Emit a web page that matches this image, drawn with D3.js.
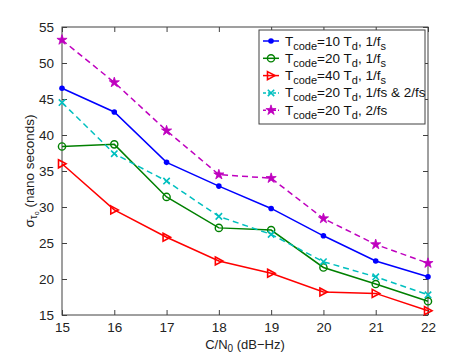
<!DOCTYPE html>
<html><head><meta charset="utf-8">
<script src="https://cdn.jsdelivr.net/npm/d3@7"></script>
<style>
body{margin:0;background:#fff;}
svg{font-family:"Liberation Sans",Arial,Helvetica,sans-serif;}
</style></head>
<body><svg id="c" width="474" height="355"></svg>
<script>
const xValues = [15,16,17,18,19,20,21,22];
const xTicks = [15,16,17,18,19,20,21,22];
const yTicks = [15,20,25,30,35,40,45,50,55];
const s10_1fs = [46.5,43.2,36.2,32.9,29.8,26.0,22.5,20.3];
const s20_1fs = [38.4,38.7,31.4,27.1,26.8,21.6,19.3,16.9];
const s40_1fs = [36.0,29.6,25.8,22.5,20.8,18.2,18.0,15.6];
const s20_12fs = [44.5,37.4,33.6,28.7,26.2,22.4,20.3,17.8];
const s20_2fs = [53.2,47.3,40.6,34.5,34.0,28.4,24.8,22.2];

const series = [
  {v:s10_1fs, color:"#0000ff", dash:null, marker:"dot", legend:["10","1/f","s"]},
  {v:s20_1fs, color:"#008000", dash:null, marker:"circle", legend:["20","1/f","s"]},
  {v:s40_1fs, color:"#ff0000", dash:null, marker:"tri", legend:["40","1/f","s"]},
  {v:s20_12fs, color:"#00bfbf", dash:"6,4", marker:"x", legend:["20","1/fs & 2/fs",""]},
  {v:s20_2fs, color:"#bf00bf", dash:"6,4", marker:"star", legend:["20","2/fs",""]}
];

const svg = d3.select("#c");
const L=62,R=428,T=27,B=315;
const x = d3.scaleLinear().domain([15,22]).range([L,R]);
const y = d3.scaleLinear().domain([15,55]).range([B,T]);
const axisColor="#404040";

svg.append("rect").attr("x",L).attr("y",T).attr("width",R-L).attr("height",B-T)
  .attr("fill","none").attr("stroke",axisColor).attr("stroke-width",1);

const fs=13.5;
const xa = svg.append("g").attr("transform",`translate(0,${B})`)
  .call(d3.axisBottom(x).tickValues(xTicks).tickSize(-5).tickPadding(7).tickFormat(d3.format("d")));
const xt = svg.append("g").attr("transform",`translate(0,${T})`)
  .call(d3.axisTop(x).tickValues(xTicks).tickSize(-5).tickFormat(""));
const ya = svg.append("g").attr("transform",`translate(${L},0)`)
  .call(d3.axisLeft(y).tickValues(yTicks).tickSize(-5).tickPadding(8).tickFormat(d3.format("d")));
const yr = svg.append("g").attr("transform",`translate(${R},0)`)
  .call(d3.axisRight(y).tickValues(yTicks).tickSize(-5).tickFormat(""));
[xa,xt,ya,yr].forEach(g=>{
  g.select(".domain").remove();
  g.selectAll("line").attr("stroke",axisColor);
  g.selectAll("text").attr("fill","#222").style("font-size",fs+"px").style("font-family","Liberation Sans, Arial, sans-serif");
});

const line = d3.line().x((d,i)=>x(xValues[i])).y(d=>y(d));
series.forEach(s=>{
  svg.append("path").datum(s.v).attr("d",line).attr("fill","none")
    .attr("stroke",s.color).attr("stroke-width",1.5)
    .attr("stroke-dasharray",s.dash);
});

function drawMarker(g,type,cx,cy,color){
  if(type==="dot"){
    g.append("circle").attr("cx",cx).attr("cy",cy).attr("r",2.8).attr("fill",color);
  } else if(type==="circle"){
    g.append("circle").attr("cx",cx).attr("cy",cy).attr("r",3.6).attr("fill","none").attr("stroke",color).attr("stroke-width",1.4);
  } else if(type==="tri"){
    g.append("path").attr("d",`M${cx-3.5},${cy-4}L${cx+4},${cy}L${cx-3.5},${cy+4}Z`)
      .attr("fill","none").attr("stroke",color).attr("stroke-width",1.6);
  } else if(type==="x"){
    const r=3.2;
    g.append("path").attr("d",`M${cx-r},${cy-r}L${cx+r},${cy+r}M${cx-r},${cy+r}L${cx+r},${cy-r}`)
      .attr("stroke",color).attr("stroke-width",1.6).attr("fill","none");
  } else if(type==="star"){
    g.append("path").attr("d",d3.symbol().type(d3.symbolStar).size(32)())
      .attr("transform",`translate(${cx},${cy})`).attr("fill",color).attr("stroke",color).attr("stroke-width",0.8);
  }
}
series.forEach(s=>{
  const g=svg.append("g");
  s.v.forEach((v,i)=>drawMarker(g,s.marker,x(xValues[i]),y(v),s.color));
});

const lg = svg.append("g");
lg.append("rect").attr("x",259).attr("y",30).attr("width",166).attr("height",94)
  .attr("fill","#fff").attr("stroke",axisColor).attr("stroke-width",1);
series.forEach((s,i)=>{
  const ly = 41 + i*17.3;
  lg.append("line").attr("x1",263).attr("x2",279).attr("y1",ly).attr("y2",ly)
    .attr("stroke",s.color).attr("stroke-width",1.5).attr("stroke-dasharray",s.dash?"3,2":null);
  drawMarker(lg,s.marker,271,ly,s.color);
  const t = lg.append("text").attr("x",285).attr("y",ly+4.5).attr("fill","#111").style("font-size","13.5px");
  t.append("tspan").text("T");
  t.append("tspan").attr("dy",4).style("font-size","11px").text("code");
  t.append("tspan").attr("dy",-4).text("="+s.legend[0]+" T");
  t.append("tspan").attr("dy",4).style("font-size","11px").text("d");
  t.append("tspan").attr("dy",-4).text(", "+s.legend[1]);
  if(s.legend[2]){
    t.append("tspan").attr("dy",4).style("font-size","11px").text(s.legend[2]);
  }
});

const xl = svg.append("text").attr("x",245).attr("y",349).attr("text-anchor","middle")
  .attr("fill","#222").style("font-size","13px");
xl.append("tspan").text("C/N");
xl.append("tspan").attr("dy",3).style("font-size","10px").text("0");
xl.append("tspan").attr("dy",-3).text(" (dB\u2212Hz)");

const yl = svg.append("text").attr("transform",`translate(34,${(T+B)/2}) rotate(-90)`)
  .attr("text-anchor","middle").attr("fill","#222").style("font-size","13.5px");
yl.append("tspan").text("\u03c3");
yl.append("tspan").attr("dy",3).style("font-size","10px").text("\u03c4");
yl.append("tspan").attr("dy",2).style("font-size","7px").text("o");
yl.append("tspan").attr("dy",-5).text(" (nano seconds)");
</script></body></html>
